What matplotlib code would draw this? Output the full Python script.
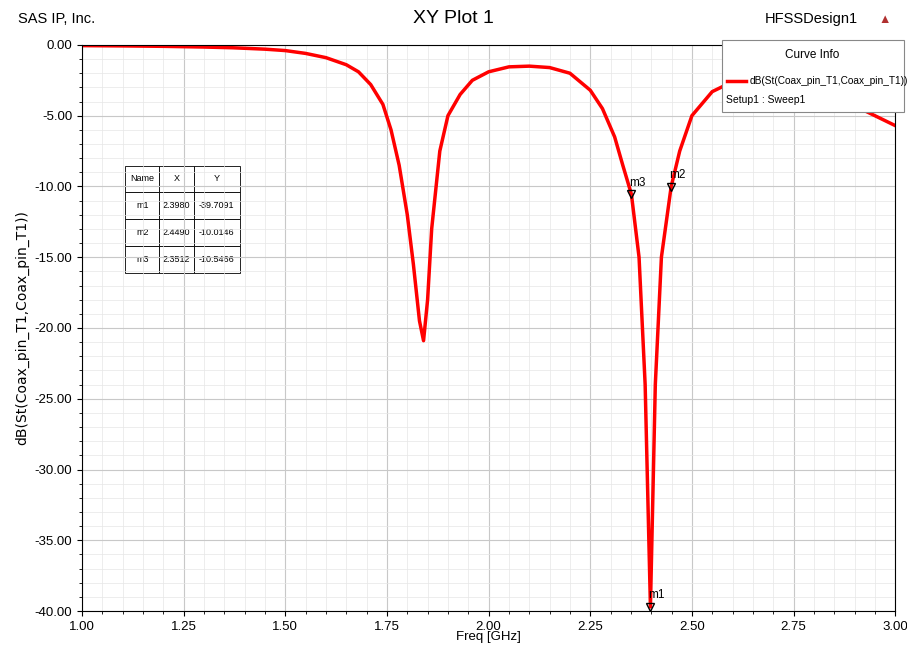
import matplotlib
matplotlib.use("Agg")
import matplotlib.pyplot as plt
from matplotlib.ticker import MultipleLocator
from matplotlib.patches import Rectangle

plt.rcParams['font.family'] = ['Liberation Sans', 'DejaVu Sans']

freq = [1.00,1.10,1.20,1.30,1.37,1.45,1.50,1.55,1.60,1.65,1.68,1.71,1.74,1.76,1.78,1.80,1.815,1.83,1.84,1.85,1.86,1.88,1.90,1.93,1.96,2.00,2.05,2.10,2.15,2.20,2.25,2.28,2.31,2.33,2.3512,2.37,2.385,2.398,2.41,2.425,2.449,2.47,2.50,2.55,2.60,2.65,2.70,2.75,2.80,2.85,2.90,2.95,3.00]
db = [-0.05,-0.07,-0.1,-0.15,-0.2,-0.3,-0.4,-0.6,-0.9,-1.4,-1.9,-2.8,-4.2,-6.0,-8.5,-12.0,-15.5,-19.5,-20.9,-18.0,-13.0,-7.5,-5.0,-3.5,-2.5,-1.9,-1.55,-1.5,-1.6,-2.0,-3.2,-4.5,-6.5,-8.5,-10.55,-15.0,-24.0,-39.71,-24.0,-15.0,-10.01,-7.5,-5.0,-3.3,-2.6,-2.3,-2.3,-2.6,-3.0,-3.6,-4.3,-5.0,-5.7]

marker_names = ['m1', 'm2', 'm3']
marker_x = [2.3980, 2.4490, 2.3512]
marker_y = [-39.7091, -10.0146, -10.5466]

fig = plt.figure(figsize=(9.07, 6.51), dpi=100)
ax = fig.add_axes([0.0904, 0.0614, 0.8966, 0.8696])
ax.plot(freq, db, color='#ff0000', lw=2.5)
ax.set_xlim(1.0, 3.0)
ax.set_ylim(-40, 0)
ax.xaxis.set_minor_locator(MultipleLocator(0.05))
ax.yaxis.set_major_locator(MultipleLocator(5))
ax.yaxis.set_minor_locator(MultipleLocator(1))
ax.grid(which='major', color='#c8c8c8', lw=0.8)
ax.grid(which='minor', color='#e6e6e6', lw=0.5)
ax.set_xticks([1.0,1.25,1.5,1.75,2.0,2.25,2.5,2.75,3.0])
ax.set_xticklabels([f"{v:.2f}" for v in ax.get_xticks()])
ax.set_yticks(ax.get_yticks())
ax.set_yticklabels([f"{v:.2f}" for v in ax.get_yticks()])
ax.set_ylim(-40, 0)
ax.tick_params(labelsize=9.5)
ax.set_xlabel('Freq [GHz]', fontsize=9.5, labelpad=-1)
ax.set_ylabel('dB(St(Coax_pin_T1,Coax_pin_T1))', fontsize=10, family='DejaVu Sans')

for n, x, y in zip(marker_names, marker_x, marker_y):
    ax.plot(x, y, marker='v', mfc='none', mec='black', ms=6, clip_on=False)
    ax.text(x - 0.005, y + 0.6, n, fontsize=8.5)

fig.text(0.5, 0.965, 'XY Plot 1', ha='center', fontsize=14)
fig.text(0.02, 0.965, 'SAS IP, Inc.', fontsize=10.5)
fig.text(0.895, 0.965, 'HFSSDesign1', ha='center', fontsize=10.5)
fig.text(0.975, 0.965, '▲', ha='center', fontsize=9, color='#b03030')

rows = [[n, f"{x:.4f}", f"{y:.4f}"] for n, x, y in zip(marker_names, marker_x, marker_y)]
tbl = ax.table(cellText=rows, colLabels=['Name', 'X', 'Y'], cellLoc='center',
               bbox=[0.053, 0.597, 0.141, 0.19], colWidths=[0.3, 0.3, 0.4])
tbl.auto_set_font_size(False)
tbl.set_fontsize(6.5)
for c in tbl.get_celld().values():
    c.set_linewidth(0.6)

fig.patches.append(Rectangle((0.796, 0.828), 0.201, 0.11, transform=fig.transFigure,
                             facecolor='white', edgecolor='#888888', lw=0.8, zorder=5))
fig.text(0.896, 0.915, 'Curve Info', ha='center', va='center', fontsize=8.5, zorder=6)
fig.lines.append(plt.Line2D([0.802, 0.823], [0.875, 0.875], transform=fig.transFigure,
                            color='red', lw=2.5, zorder=6))
fig.text(0.827, 0.875, 'dB(St(Coax_pin_T1,Coax_pin_T1))', va='center', fontsize=7.3, zorder=6)
fig.text(0.8, 0.847, 'Setup1 : Sweep1', va='center', fontsize=7.5, zorder=6)

fig.savefig('out.png', dpi=100)
